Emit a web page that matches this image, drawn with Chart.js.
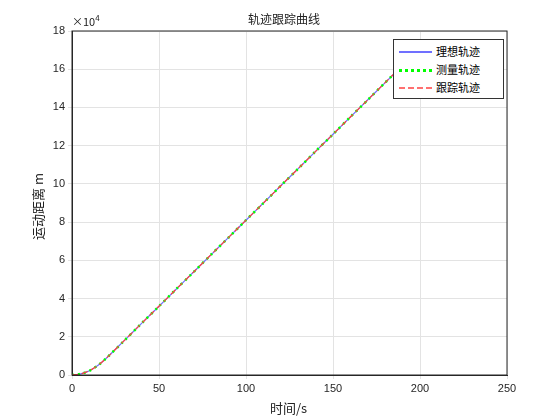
<!DOCTYPE html>
<html><head><meta charset="utf-8">
<script src="https://cdn.jsdelivr.net/npm/chart.js@4"></script>
<style>
body{margin:0;background:#fff;font-family:"Noto Sans CJK SC",sans-serif}
#wrap{position:relative;width:560px;height:420px}
.t{position:absolute;font-size:12px;color:#222}
#legend{position:absolute;left:393px;top:39px;width:109px;background:#fff;border:1px solid #333;font-size:11px;padding:2px 0}
#legend div{height:18px;line-height:18px;position:relative;padding-left:42px}
#legend span{position:absolute;left:5px;top:9px;width:33px;border-top:2px solid}
</style></head><body>
<div id="wrap">
<canvas id="c" width="560" height="420"></canvas>
<div class="t" style="left:248px;top:10px;font-size:12px">轨迹跟踪曲线</div>
<div class="t" style="left:72px;top:12px;font-size:11px">×10<sup style="font-size:8px">4</sup></div>
<div class="t" style="left:270px;top:398px;font-size:13px">时间/s</div>
<div class="t" style="left:28px;top:240px;font-size:13px;transform:rotate(-90deg);transform-origin:left top">运动距离 m</div>
<div id="legend">
<div><span style="border-color:#7070ff"></span>理想轨迹</div>
<div><span style="border-color:#00ff00;border-top-style:dotted;border-top-width:3px"></span>测量轨迹</div>
<div><span style="border-color:#ff7070;border-top-style:dashed"></span>跟踪轨迹</div>
</div>
</div>
<script>
const times = [0, 5, 10, 15, 20, 30, 40, 50, 60, 70, 80, 90, 100, 110, 120, 130, 140, 150, 160, 170, 180, 190, 200];
const ideal = [0, 560, 2250, 5060, 9000, 18000, 27000, 36000, 45000, 54000, 63000, 72000, 81000, 90000, 99000, 108000, 117000, 126000, 135000, 144000, 153000, 162000, 171000];
const measured = [0, 600, 2200, 5100, 9050, 17950, 27050, 35950, 45050, 53950, 63050, 71950, 81050, 89950, 99050, 107950, 117050, 125950, 135050, 143950, 153050, 161950, 171050];
const tracked = [0, 580, 2230, 5080, 9020, 17980, 27020, 35980, 45020, 53980, 63020, 71980, 81020, 89980, 99020, 107980, 117020, 125980, 135020, 143980, 153020, 161980, 171020];

const pts = a => a.map((v, i) => ({x: times[i], y: v}));
const tickFont = {family: 'Liberation Sans, sans-serif', size: 11};
const axisBox = {display: true, color: '#262626', width: 1};

new Chart(document.getElementById('c'), {
    type: 'line',
    data: {
        datasets: [
            {data: pts(ideal), borderColor: '#7070ff', borderWidth: 1.2, order: 3},
            {data: pts(measured), borderColor: '#00ff00', borderWidth: 2.5, borderDash: [2, 4], order: 2},
            {data: pts(tracked), borderColor: '#ff4040', borderWidth: 1.2, borderDash: [6, 4], order: 1}
        ]
    },
    options: {
        responsive: false, animation: false,
        elements: {point: {radius: 0}, line: {tension: 0.3}},
        layout: {padding: {left: 0, right: 53, top: 31, bottom: 0}},
        plugins: {legend: {display: false}, tooltip: {enabled: false}},
        scales: {
            x: {
                type: 'linear', min: 0, max: 250,
                ticks: {stepSize: 50, color: '#262626', font: tickFont},
                grid: {color: '#e3e3e3', tickLength: 4},
                border: axisBox,
                afterFit: s => { s.height = 45; }
            },
            y: {
                min: 0, max: 180000,
                ticks: {stepSize: 20000, color: '#262626', font: tickFont, callback: v => v / 10000},
                grid: {color: '#e3e3e3', tickLength: 4},
                border: axisBox,
                afterFit: s => { s.width = 72; }
            }
        }
    },
    plugins: [{
        id: 'box',
        afterDraw(c) {
            const a = c.chartArea, g = c.ctx;
            g.save(); g.strokeStyle = '#262626'; g.lineWidth = 1;
            g.strokeRect(a.left, a.top, a.right - a.left, a.bottom - a.top);
            g.restore();
        }
    }]
});
</script>
</body></html>
